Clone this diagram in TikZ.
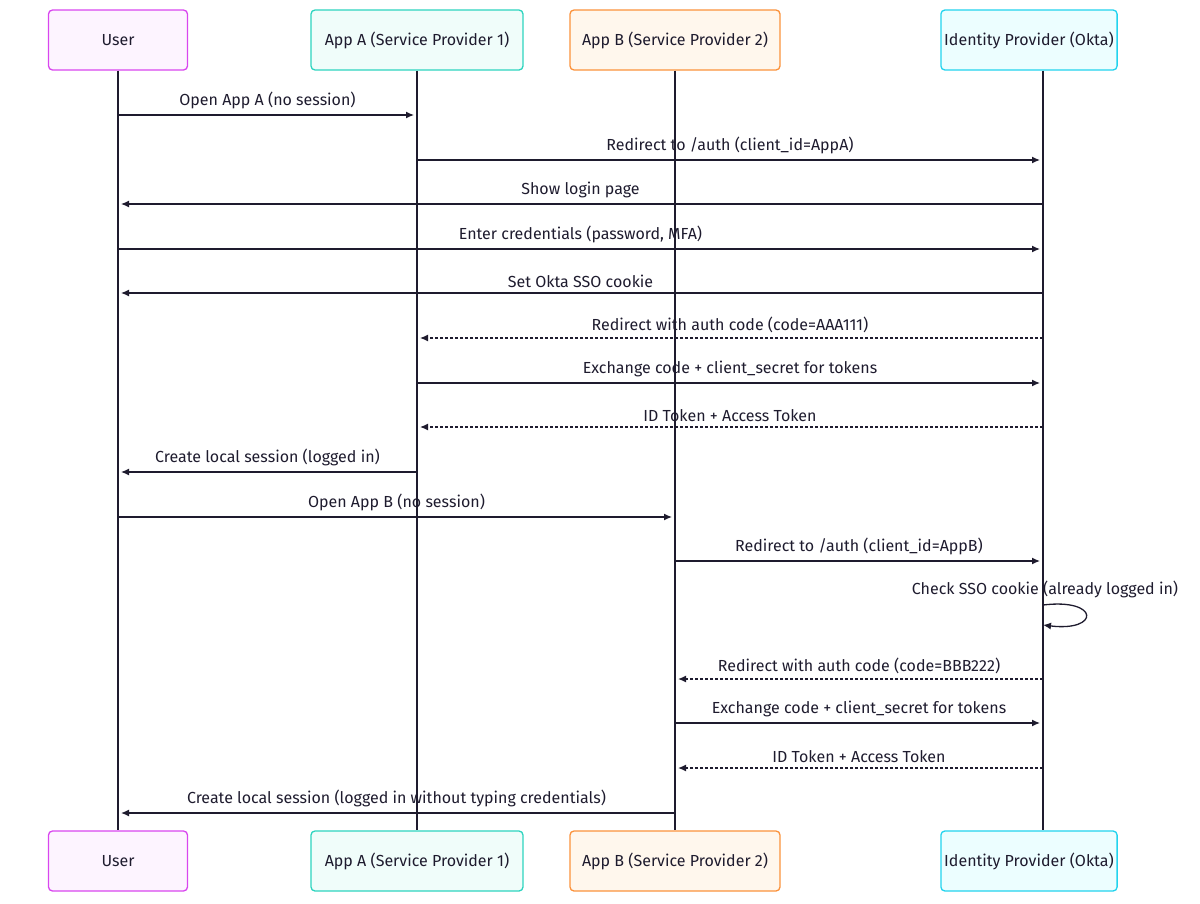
\documentclass[tikz,border=0pt]{standalone}
\usepackage{fontspec}
\setmainfont{Fira Sans}
\usetikzlibrary{arrows.meta}
\definecolor{userfill}{HTML}{FDF4FF}\definecolor{userdraw}{HTML}{D946EF}
\definecolor{afill}{HTML}{F0FDFA}\definecolor{adraw}{HTML}{2DD4BF}
\definecolor{bfill}{HTML}{FFF7ED}\definecolor{bdraw}{HTML}{FB923C}
\definecolor{idpfill}{HTML}{ECFEFF}\definecolor{idpdraw}{HTML}{22D3EE}
\definecolor{ink}{HTML}{1E1B2E}
\newcommand\msg[5]{%
  \coordinate (m#3a) at (#1,#3); \coordinate (m#3b) at (#2,#3);
  \draw[msgline,#5] (m#3a) -- node[msglabel] {#4} (m#3b);}
\begin{document}
\begin{tikzpicture}[x=1pt,y=-1pt,
    actor/.style={draw, line width=1.3pt, rounded corners=4pt, minimum height=60pt, font=\fontsize{16}{18}\selectfont, text=ink},
    lifeline/.style={ink, line width=1.3pt},
    msgline/.style={ink, line width=1.3pt, -{Latex[length=8pt,width=7pt]}, shorten >=3pt},
    reply/.style={dash pattern=on 3pt off 2pt},
    msglabel/.style={above=4pt, font=\fontsize{16}{18}\selectfont, text=ink, inner sep=1pt}
]
    \useasboundingbox (0,0) rectangle (1200,903);
    % participants, top and bottom
    \foreach \y/\p in {40/t,861/b}{
      \node[actor, fill=userfill, draw=userdraw, minimum width=139pt] (user\p) at (118,\y) {User};
      \node[actor, fill=afill, draw=adraw, minimum width=212pt] (appa\p) at (417,\y) {App A (Service Provider 1)};
      \node[actor, fill=bfill, draw=bdraw, minimum width=210pt] (appb\p) at (675,\y) {App B (Service Provider 2)};
      \node[actor, fill=idpfill, draw=idpdraw, minimum width=170pt] (idp\p) at (1029,\y) {Identity Provider (Okta)};
    }
    \foreach \n/\x in {user/118,appa/417,appb/675,idp/1043}
      \draw[lifeline] (\x,0 |- \n t.south) -- (\x,0 |- \n b.north);

    % messages
    \msg{118}{417}{115}{Open App A (no session)}{}
    \msg{417}{1043}{160}{Redirect to /auth (client\_id=AppA)}{}
    \msg{1043}{118}{204}{Show login page}{}
    \msg{118}{1043}{249}{Enter credentials (password, MFA)}{}
    \msg{1043}{118}{293}{Set Okta SSO cookie}{}
    \msg{1043}{417}{338}{Redirect with auth code (code=AAA111)}{reply}
    \msg{417}{1043}{383}{Exchange code + client\_secret for tokens}{}
    \msg{1043}{417}{427}{ID Token + Access Token}{reply}
    \msg{417}{118}{472}{Create local session (logged in)}{}
    \msg{118}{675}{517}{Open App B (no session)}{}
    \msg{675}{1043}{561}{Redirect to /auth (client\_id=AppB)}{}
    \coordinate (selfa) at (1043,605); \coordinate (selfb) at (1043,625);
    \node[font=\fontsize{16}{18}\selectfont, text=ink] (selflabel) at (1045,589) {Check SSO cookie (already logged in)};
    \draw[msgline, shorten >=0pt] (selfa) .. controls (1100,598) and (1100,632) .. (selfb);
    \msg{1043}{675}{679}{Redirect with auth code (code=BBB222)}{reply}
    \msg{675}{1043}{723}{Exchange code + client\_secret for tokens}{}
    \msg{1043}{675}{768}{ID Token + Access Token}{reply}
    \msg{675}{118}{813}{Create local session (logged in without typing credentials)}{}
\end{tikzpicture}
\end{document}
